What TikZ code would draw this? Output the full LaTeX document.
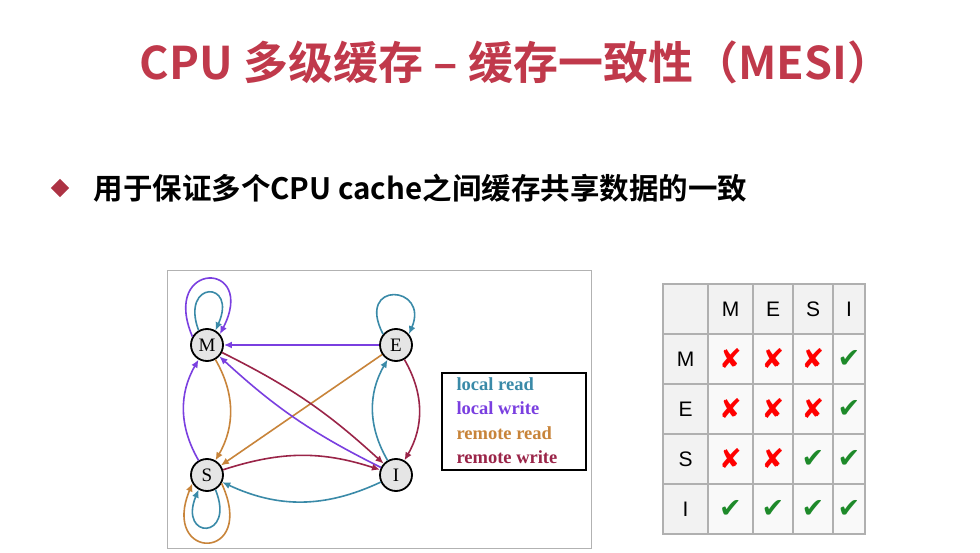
\documentclass[tikz,border=0pt]{standalone}
\usepackage{fontspec}
\setmainfont{Liberation Serif}
\newfontfamily\cjk{Noto Sans CJK SC}[BoldFont={Noto Sans CJK SC Bold}]
\newfontfamily\sym{DejaVu Sans}
\newfontfamily\hv{Liberation Sans}
\usetikzlibrary{arrows.meta}
\definecolor{ttl}{HTML}{C0394B}
\definecolor{lr}{HTML}{3A8AA8}
\definecolor{lw}{HTML}{7A3FE0}
\definecolor{rr}{HTML}{C8843A}
\definecolor{rw}{HTML}{9A2448}
\definecolor{ok}{HTML}{1E8A2A}
\definecolor{grid}{HTML}{B0B0B0}
\begin{document}
\begin{tikzpicture}[x=1pt,y=-1pt,
  st/.style={circle,draw,line width=1.8pt,fill=gray!20,minimum size=32pt,inner sep=0pt,font=\fontsize{19}{19}\selectfont},
  ar/.style={-{Latex[length=8pt,width=7pt]},line width=1.6pt},
  cell/.style={draw=grid,line width=1.2pt,minimum width=#1,minimum height=50pt,inner sep=0pt},
  hd/.style={fill=gray!10},
  lab/.style={font=\hv\fontsize{21}{21}\selectfont},
  lg/.style={anchor=west,font=\bfseries\fontsize{18.5}{18.5}\selectfont},
  xm/.style={text=red,font=\sym\bfseries\fontsize{27}{27}\selectfont},
  vm/.style={text=ok,font=\sym\bfseries\fontsize{27}{27}\selectfont}]
\useasboundingbox[fill=white] (0,0) rectangle (980,553);
\node[font=\cjk\bfseries\fontsize{45}{45}\selectfont,text=ttl] (title) at (516,62) {CPU 多级缓存 – 缓存一致性（MESI）};
\node[fill=ttl!90!black,rotate=45,minimum size=13pt,inner sep=0pt] (dia) at (60,188) {};
\node[font=\cjk\bfseries\fontsize{29.5}{29.5}\selectfont,anchor=west] (bul) at (90,188) {用于保证多个CPU cache之间缓存共享数据的一致};
\draw[gray!60,line width=1pt] (167,271) rectangle (591,548);
\node[st] (M) at (207,345) {M};
\node[st] (E) at (396,345) {E};
\node[st] (S) at (207,475) {S};
\node[st] (I) at (396,475) {I};
% loops
\draw[ar,lr] (M.120) .. controls (180,280) and (238,280) .. (M.60);
\draw[ar,lw] (M.150) .. controls (160,260) and (258,260) .. (M.40);
\draw[ar,lr] (E.140) .. controls (355,280) and (430,285) .. (E.40);
\draw[ar,lr] (S.300) .. controls (236,540) and (178,540) .. (S.240);
\draw[ar,rr] (S.330) .. controls (258,562) and (160,562) .. (S.210);
% edges
\draw[ar,lw] (E) -- (M);
\draw[ar,rr] (E) -- (S);
\draw[ar,rw] (M) to[bend left=8] (I);
\draw[ar,lw] (I) to[bend left=8] (M);
\draw[ar,rw] (E) to[bend left=30] (I);
\draw[ar,lr] (I) to[bend left=30] (E);
\draw[ar,lw] (S) to[bend left=30] (M);
\draw[ar,rr] (M) to[bend left=30] (S);
\draw[ar,rw] (S) to[bend left=18] (I);
\draw[ar,lr] (I) to[bend left=25] (S);
% legend
\draw[line width=1.2pt] (442,373) rectangle (586,470);
\node[lg,text=lr] (l1) at (453,384) {local read};
\node[lg,text=lw] (l2) at (453,408) {local write};
\node[lg,text=rr] (l3) at (453,433) {remote read};
\node[lg,text=rw] (l4) at (453,457) {remote write};
% table
\foreach \n/\xc/\w in {0/685.5/45,1/730.5/45,2/773/40,3/813/40,4/849/32}{
  \foreach \r/\yc in {0/309,1/359,2/409,3/459,4/509}{
    \node[cell=\w pt,fill=gray!5] (c\n\r) at (\xc,\yc) {};
  }}
\foreach \n/\xc/\w in {0/685.5/45,1/730.5/45,2/773/40,3/813/40,4/849/32}{\node[cell=\w pt,hd] at (\xc,309) {};}
\foreach \r/\yc in {1/359,2/409,3/459,4/509}{\node[cell=45pt,hd] at (685.5,\yc) {};}
\foreach \t/\n in {M/1,E/2,S/3,I/4}{\node[lab] at (c\n0) {\t}; \node[lab] at (c0\n) {\t};}
\foreach \n/\r in {1/1,2/1,3/1,1/2,2/2,3/2,1/3,2/3}{\node[xm] at (c\n\r) {✘};}
\foreach \n/\r in {4/1,4/2,3/3,4/3,1/4,2/4,3/4,4/4}{\node[vm] at (c\n\r) {✔};}
\end{tikzpicture}
\end{document}
